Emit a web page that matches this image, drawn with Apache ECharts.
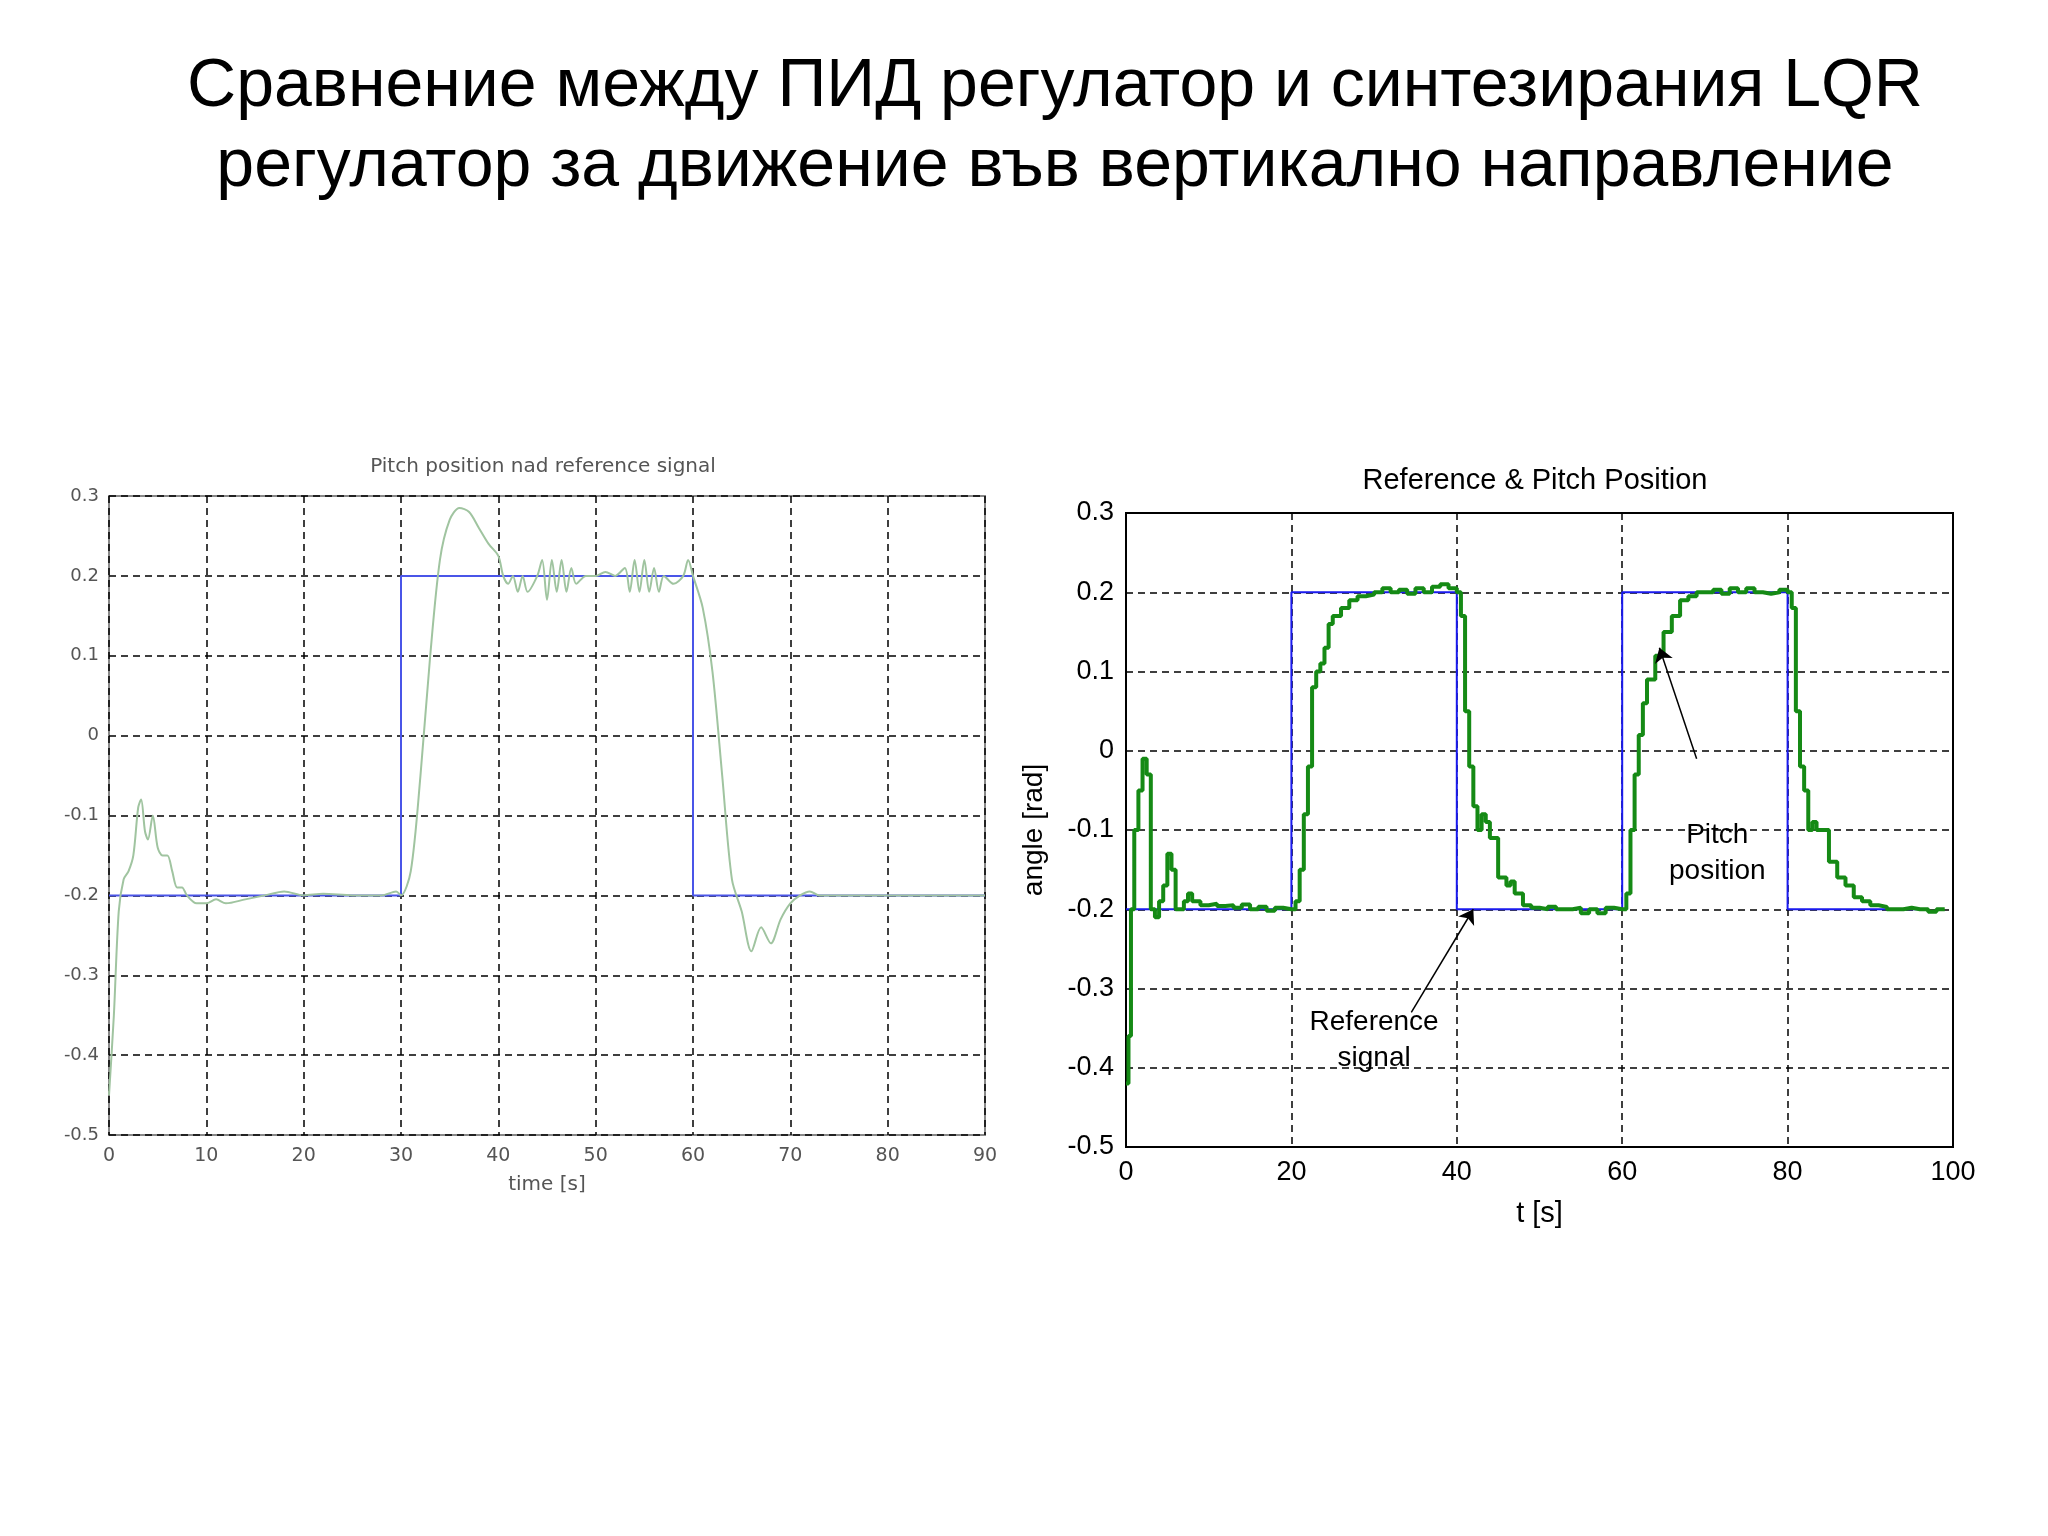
<!DOCTYPE html>
<html><head><meta charset="utf-8">
<script src="https://cdn.jsdelivr.net/npm/echarts@6/dist/echarts.min.js"></script>
<style>html,body{margin:0;padding:0;background:#fff}#c{width:2048px;height:1536px}</style>
</head><body><div id="c"></div>
<script>
const titleLines = ['Сравнение между ПИД регулатор и синтезирания LQR', 'регулатор за движение във вертикално направление'];
const leftTitle = 'Pitch position nad reference signal';
const rightTitle = 'Reference & Pitch Position';
const leftRef = [[0,-0.2],[30,-0.2],[30,0.2],[60,0.2],[60,-0.2],[90,-0.2]];
const leftPid = [[0,-0.45],[0.5,-0.35],[1,-0.22],[1.5,-0.18],[2,-0.17],[2.5,-0.15],[3,-0.09],[3.3,-0.08],[3.7,-0.12],[4,-0.13],[4.5,-0.1],[5,-0.14],[5.5,-0.15],[6,-0.15],[6.5,-0.17],[7,-0.19],[7.5,-0.19],[8,-0.2],[9,-0.21],[10,-0.21],[11,-0.205],[12,-0.21],[14,-0.205],[16,-0.2],[18,-0.195],[20,-0.2],[22,-0.198],[25,-0.2],[28,-0.2],[29.5,-0.195],[30,-0.2],[31,-0.17],[32,-0.05],[33,0.1],[34,0.22],[35,0.27],[36,0.285],[37,0.28],[38,0.26],[39,0.24],[40,0.225],[40.5,0.2],[41,0.19],[41.5,0.2],[42,0.18],[42.5,0.2],[43,0.18],[44,0.2],[44.5,0.22],[45,0.17],[45.5,0.22],[46,0.18],[46.5,0.22],[47,0.18],[47.5,0.21],[48,0.19],[49,0.2],[50,0.2],[51,0.205],[52,0.2],[53,0.21],[53.5,0.18],[54,0.22],[54.5,0.18],[55,0.22],[55.5,0.18],[56,0.21],[56.5,0.18],[57,0.2],[58,0.19],[59,0.2],[59.5,0.22],[60,0.2],[61,0.16],[62,0.08],[63,-0.05],[64,-0.18],[65,-0.22],[66,-0.27],[67,-0.24],[68,-0.26],[69,-0.23],[70,-0.21],[71,-0.2],[72,-0.195],[73,-0.2],[75,-0.2],[78,-0.2],[80,-0.2],[85,-0.2],[90,-0.2]];
const rightRef = [[0,-0.2],[20,-0.2],[20,0.2],[40,0.2],[40,-0.2],[60,-0.2],[60,0.2],[80,0.2],[80,-0.2],[97,-0.2]];
const rightLqr = [[0,-0.42],[0.3,-0.36],[0.6,-0.2],[1,-0.1],[1.5,-0.05],[2,-0.01],[2.5,-0.03],[3,-0.2],[3.5,-0.21],[4,-0.19],[4.5,-0.17],[5,-0.13],[5.5,-0.15],[6,-0.2],[7,-0.19],[7.5,-0.18],[8,-0.19],[9,-0.195],[10,-0.193],[11,-0.196],[12,-0.195],[13,-0.198],[14,-0.194],[15,-0.2],[16,-0.197],[17,-0.202],[18,-0.198],[19,-0.2],[20,-0.2],[20.5,-0.19],[21,-0.15],[21.5,-0.08],[22,-0.02],[22.5,0.08],[23,0.1],[23.5,0.11],[24,0.13],[24.5,0.16],[25,0.17],[26,0.18],[27,0.19],[28,0.195],[29,0.197],[30,0.2],[31,0.205],[32,0.2],[33,0.203],[34,0.198],[35,0.205],[36,0.2],[37,0.207],[38,0.21],[39,0.205],[40,0.2],[40.5,0.17],[41,0.05],[41.5,-0.02],[42,-0.07],[42.5,-0.1],[43,-0.08],[43.5,-0.09],[44,-0.11],[45,-0.16],[46,-0.17],[46.5,-0.165],[47,-0.18],[48,-0.195],[49,-0.198],[50,-0.2],[51,-0.197],[52,-0.2],[53,-0.2],[54,-0.198],[55,-0.205],[56,-0.2],[57,-0.205],[58,-0.198],[59,-0.2],[60,-0.2],[60.5,-0.18],[61,-0.1],[61.5,-0.03],[62,0.02],[62.5,0.06],[63,0.09],[64,0.12],[65,0.15],[66,0.17],[67,0.19],[68,0.195],[69,0.2],[70,0.2],[71,0.203],[72,0.198],[73,0.205],[74,0.2],[75,0.205],[76,0.2],[77,0.198],[78,0.2],[79,0.203],[80,0.2],[80.5,0.18],[81,0.05],[81.5,-0.02],[82,-0.05],[82.5,-0.1],[83,-0.09],[83.5,-0.1],[84,-0.1],[85,-0.14],[86,-0.16],[87,-0.17],[88,-0.185],[89,-0.19],[90,-0.195],[91,-0.197],[92,-0.2],[93,-0.2],[94,-0.198],[95,-0.2],[96,-0.2],[97,-0.203],[98,-0.2],[99,-0.2]];

const chart = echarts.init(document.getElementById('c'));
const dash = {show:true, lineStyle:{color:'#000', type:[7,5], width:1.5}};
const yFmt = v => (Math.abs(v)<1e-9 ? '0' : String(Math.round(v*10)/10));
chart.setOption({
  animation:false,
  backgroundColor:'#fff',
  title:[
    {text:titleLines.join('\n'), left:1050, top:42, textAlign:'center', textStyle:{fontFamily:'Liberation Sans', fontSize:68, fontWeight:'normal', color:'#000', lineHeight:80}},
    {text:leftTitle, left:538, top:452, textAlign:'center', textStyle:{fontFamily:'DejaVu Sans', fontSize:20, fontWeight:'normal', color:'#555'}},
    {text:rightTitle, left:1530, top:461, textAlign:'center', textStyle:{fontFamily:'Liberation Sans', fontSize:29, fontWeight:'normal', color:'#000'}}
  ],
  grid:[
    {left:109, top:496, width:876, height:639, show:true, borderColor:'#888', borderWidth:2, backgroundColor:'#fff'},
    {left:1126, top:513, width:827, height:634, show:true, borderColor:'#000', borderWidth:2, backgroundColor:'#fff'}
  ],
  xAxis:[
    {gridIndex:0, type:'value', min:0, max:90, interval:10, name:'time [s]', nameLocation:'middle', nameGap:40, nameTextStyle:{fontFamily:'DejaVu Sans', fontSize:20, color:'#555'}, axisLine:{show:false}, axisTick:{show:false}, axisLabel:{fontFamily:'DejaVu Sans', fontSize:19, color:'#555', margin:12}, splitLine:dash},
    {gridIndex:1, type:'value', min:0, max:100, interval:20, name:'t [s]', nameLocation:'middle', nameGap:52, nameTextStyle:{fontFamily:'Liberation Sans', fontSize:29, color:'#000'}, axisLine:{show:false}, axisTick:{show:false}, axisLabel:{fontFamily:'Liberation Sans', fontSize:27, color:'#000', margin:12}, splitLine:dash}
  ],
  yAxis:[
    {gridIndex:0, type:'value', min:-0.5, max:0.3, interval:0.1, axisLine:{show:false}, axisTick:{show:false}, axisLabel:{fontFamily:'DejaVu Sans', fontSize:18, color:'#555', margin:10, formatter:yFmt}, splitLine:dash},
    {gridIndex:1, type:'value', min:-0.5, max:0.3, interval:0.1, name:'angle [rad]', nameLocation:'middle', nameGap:78, nameTextStyle:{fontFamily:'Liberation Sans', fontSize:28, color:'#000'}, axisLine:{show:false}, axisTick:{show:false}, axisLabel:{fontFamily:'Liberation Sans', fontSize:27, color:'#000', margin:12, formatter:yFmt}, splitLine:dash}
  ],
  series:[
    {type:'line', xAxisIndex:0, yAxisIndex:0, data:leftRef, symbol:'none', lineStyle:{color:'#4a55e8', width:2}, z:3},
    {type:'line', xAxisIndex:0, yAxisIndex:0, data:leftPid, symbol:'none', smooth:0.3, lineStyle:{color:'#a0c4a0', width:2}, z:4},
    {type:'line', xAxisIndex:1, yAxisIndex:1, data:rightRef, symbol:'none', lineStyle:{color:'#1a1aee', width:2}, z:3,
      markLine:{silent:true, symbol:['none','arrow'], symbolSize:14, label:{show:false}, lineStyle:{color:'#000', type:'solid', width:1.5},
        data:[[{coord:[34.5,-0.33]},{coord:[42,-0.2]}],[{coord:[69,-0.01]},{coord:[64.5,0.13]}]]},
      markPoint:{symbol:'circle', symbolSize:0, label:{show:true, color:'#000', fontFamily:'Liberation Sans', fontSize:28, lineHeight:36},
        data:[{coord:[30,-0.365], label:{formatter:'Reference\nsignal'}},{coord:[71.5,-0.13], label:{formatter:'Pitch\nposition'}}]}},
    {type:'line', xAxisIndex:1, yAxisIndex:1, data:rightLqr, symbol:'none', step:'end', lineStyle:{color:'#158a15', width:4}, z:4}
  ]
});
</script></body></html>
